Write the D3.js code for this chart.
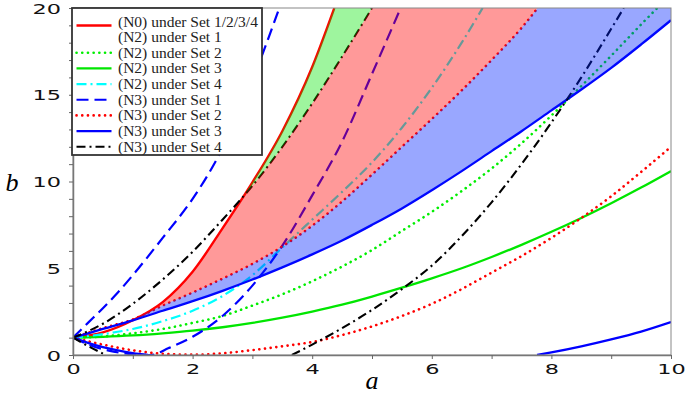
<!DOCTYPE html>
<html>
<head>
<meta charset="utf-8">
<script src="https://d3js.org/d3.v7.min.js"></script>
<style>
  body { margin: 0; background: #fff; }
  .tick text { font-family: "DejaVu Sans", sans-serif; font-size: 14px; fill: #111; }
  .legend text { font-family: "Liberation Serif", "Times New Roman", serif; font-size: 15.5px; fill: #222; }
</style>
</head>
<body>
<svg id="chart" width="685" height="395"></svg>
<script>
// curves, [a, b]
var n0 = [[0,1],[0.5,1.3],[1,2.0],[1.5,3.05],[2,4.8],[2.5,7.3],[3,9.95],[3.5,12.9],[4,16.6],[4.37,20]];
var n2set2 = [[0,1],[0.5,1.07],[1,1.25],[1.5,1.5],[2,1.85],[2.5,2.25],[3,2.85],[3.5,3.5],[4,4.25],[4.5,5.1],[5,6.05],[5.5,7.15],[6,8.25],[6.5,9.45],[7,10.75],[7.5,12.2],[8,13.8],[8.5,15.5],[9,17.25],[9.5,19.05],[9.77,20]];
var n2set3 = [[0,1],[0.5,1.05],[1,1.13],[1.5,1.25],[2,1.4],[2.5,1.6],[3,1.85],[3.5,2.15],[4,2.5],[4.5,2.9],[5,3.37],[5.5,3.88],[6,4.42],[6.5,5.0],[7,5.65],[7.5,6.35],[8,7.1],[8.5,7.9],[9,8.75],[9.5,9.65],[10,10.6]];
var n2set4 = [[0,1],[0.5,1.2],[1,1.5],[1.5,1.95],[2,2.55],[2.5,3.4],[3,4.6],[3.5,6.2],[4,7.8],[4.5,9.4],[5,11.1],[5.5,13.1],[6,15.4],[6.5,18.0],[6.85,20]];
var n3set1Up = [[0,1],[0.25,1.85],[0.5,2.7],[0.75,3.6],[1,4.6],[1.5,6.75],[2,9.0],[2.25,10.35],[2.5,11.9],[2.75,13.7],[3,15.8],[3.25,18.1],[3.45,20]];
var n3set1Low = [[0,1],[0.3,0.55],[0.6,0.25],[0.9,0.08],[1.3,0],[1.6,0.4],[2,1.05],[2.5,2.25],[3,4.0],[3.5,6.3],[4,9.2],[4.5,12.3],[5,16.2],[5.48,20]];
var n3set2Up = [[0,1],[0.5,1.55],[1,2.05],[1.5,2.85],[2,3.6],[2.5,4.4],[3,5.25],[3.5,6.25],[4,7.45],[4.5,8.85],[5,10.4],[5.5,12.0],[6,13.6],[6.5,15.25],[7,17.0],[7.5,18.85],[7.77,20]];
var n3set2Low = [[0,1],[0.5,0.6],[1,0.27],[1.5,0.07],[2,0.02],[2.5,0.1],[3,0.28],[3.5,0.5],[4,0.75],[4.5,1.15],[5,1.65],[5.5,2.25],[6,2.95],[6.5,3.8],[7,4.75],[7.5,5.7],[8,6.75],[8.5,7.9],[9,9.15],[9.5,10.55],[10,12.0]];
var n3set3Up = [[0,1],[0.5,1.5],[1,2.0],[1.5,2.55],[2,3.1],[2.5,3.7],[3,4.35],[3.5,5.05],[4,5.8],[4.5,6.6],[5,7.5],[5.5,8.45],[6,9.5],[6.5,10.6],[7,11.75],[7.5,12.9],[8,14.1],[8.5,15.3],[9,16.55],[9.5,17.9],[10,19.3]];
var n3set3LowL = [[0,1],[0.25,0.7],[0.5,0.45],[0.75,0.26],[1,0.11],[1.25,0]];
var n3set3LowR = [[7.76,0],[8,0.15],[8.5,0.5],[9,0.9],[9.5,1.35],[10,1.9]];
var n3set4Up = [[0,1],[0.5,1.8],[1,2.95],[1.5,4.35],[2,5.95],[2.5,7.8],[3,9.75],[3.5,12.0],[4,14.5],[4.5,17.2],[5,20]];
var n3set4LowL = [[0,1],[0.25,0.52],[0.5,0.08],[0.55,0]];
var n3set4LowR = [[3.66,0],[4,0.6],[4.5,1.55],[5,2.6],[5.5,3.8],[6,5.15],[6.5,6.85],[7,8.8],[7.5,11.0],[8,13.4],[8.5,16.0],[9,18.8],[9.21,20]];

var fillStart = 1.0;   // shaded regions begin at a = 1
var xTicks = [0, 2, 4, 6, 8, 10];
var yTicks = [0, 5, 10, 15, 20];

var series = [
  {label: "(N0) under Set 1/2/3/4", lines: [n0], color: "#ff0000", dash: null, w: 2.4},
  {label: "(N2) under Set 1", lines: [], color: null},
  {label: "(N2) under Set 2", lines: [n2set2], color: "#00ee00", dash: "0.1,5.6", w: 2.6, cap: "round"},
  {label: "(N2) under Set 3", lines: [n2set3], color: "#00e600", dash: null, w: 2.3},
  {label: "(N2) under Set 4", lines: [n2set4], color: "#00ffff", dash: "10,4,2,4", w: 2.2},
  {label: "(N3) under Set 1", lines: [n3set1Up, n3set1Low], color: "#0000ff", dash: "12,6", w: 2.2},
  {label: "(N3) under Set 2", lines: [n3set2Up, n3set2Low], color: "#ff0000", dash: "0.1,5.6", w: 2.6, cap: "round"},
  {label: "(N3) under Set 3", lines: [n3set3Up, n3set3LowL, n3set3LowR], color: "#0000ff", dash: null, w: 2.3},
  {label: "(N3) under Set 4", lines: [n3set4Up, n3set4LowL, n3set4LowR], color: "#000000", dash: "9,4,2,4", w: 2.1}
];

var margin = {top: 8, right: 14, bottom: 40, left: 73},
    width = 685 - margin.left - margin.right,
    height = 395 - margin.top - margin.bottom;

var x = d3.scaleLinear().domain([0, 10]).range([0, width]);
var y = d3.scaleLinear().domain([0, 20]).range([height, 0]);

var svg = d3.select("#chart");
var defs = svg.append("defs");
var g = svg.append("g").attr("transform", "translate(" + margin.left + "," + margin.top + ")");

var line = d3.line().x(function(d) { return x(d[0]); }).y(function(d) { return y(d[1]); })
    .curve(d3.curveMonotoneX);

defs.append("clipPath").attr("id", "plot").append("rect")
    .attr("width", width).attr("height", height);
defs.append("clipPath").attr("id", "fromStart").append("rect")
    .attr("x", x(fillStart)).attr("width", width - x(fillStart)).attr("height", height);

// region under a curve (plus everything right of where it leaves the top)
function below(id, pts) {
  var cp = defs.append("clipPath").attr("id", id);
  cp.append("path").attr("d", d3.area().curve(d3.curveMonotoneX)
      .x(function(d) { return x(d[0]); })
      .y0(y(-1))
      .y1(function(d) { return y(d[1]); })(pts));
  var last = pts[pts.length - 1][0];
  cp.append("rect").attr("x", x(last) - 0.5).attr("y", -10)
      .attr("width", width - x(last) + 20).attr("height", height + 20);
}
function above(pts) {
  return d3.area().curve(d3.curveMonotoneX)
      .x(function(d) { return x(d[0]); })
      .y0(function(d) { return y(d[1]); })
      .y1(y(21))(pts);
}
below("belowN0", n0);
below("belowN3s4", n3set4Up);
below("belowN3s2", n3set2Up);

var plot = g.append("g").attr("clip-path", "url(#plot)");

// lines
series.forEach(function(s) {
  s.lines.forEach(function(pts) {
    plot.append("path")
        .attr("d", line(pts))
        .attr("fill", "none")
        .attr("stroke", s.color)
        .attr("stroke-width", s.w)
        .attr("stroke-dasharray", s.dash)
        .attr("stroke-linecap", s.cap || "butt");
  });
});

// shaded regions drawn on top, translucent
plot.append("g").attr("clip-path", "url(#belowN0)")
  .append("path").attr("d", above(n3set4Up))
    .attr("fill", "#00e600").attr("fill-opacity", 0.38);

plot.append("g").attr("clip-path", "url(#belowN0)")
  .append("g").attr("clip-path", "url(#belowN3s4)")
  .append("path").attr("d", above(n3set2Up))
    .attr("fill", "#ff0000").attr("fill-opacity", 0.4);

plot.append("g").attr("clip-path", "url(#fromStart)")
  .append("g").attr("clip-path", "url(#belowN3s2)")
  .append("path").attr("d", above(n3set3Up))
    .attr("fill", "#0022ff").attr("fill-opacity", 0.4);

// frame
g.append("rect").attr("width", width).attr("height", height)
    .attr("fill", "none").attr("stroke", "#888").attr("stroke-width", 1);

// axes
var xAxis = g.append("g").attr("transform", "translate(0," + height + ")")
    .call(d3.axisBottom(x).tickValues(d3.range(0, 11)).tickSize(4).tickSizeOuter(0)
      .tickFormat(function(d) { return xTicks.indexOf(d) >= 0 ? d : ""; }));
var yAxis = g.append("g")
    .call(d3.axisLeft(y).tickValues(d3.range(0, 21)).tickSize(4).tickSizeOuter(0)
      .tickFormat(function(d) { return yTicks.indexOf(d) >= 0 ? d : ""; }));
[xAxis, yAxis].forEach(function(a) {
  a.select(".domain").attr("stroke", "#777").attr("stroke-width", 1.5);
  a.selectAll(".tick line").attr("stroke", "#666");
});
xAxis.selectAll(".tick text")
    .attr("y", 0).attr("dy", null)
    .attr("transform", "translate(0,19) scale(1.6,1)");
yAxis.selectAll(".tick text")
    .attr("x", 0).attr("dy", "0.36em")
    .attr("transform", "translate(-12,0) scale(1.6,1)");

// axis titles
svg.append("text").attr("x", 12).attr("y", 191)
    .attr("text-anchor", "middle")
    .style("font-family", "'Liberation Serif', serif").style("font-style", "italic").style("font-size", "26px")
    .text("b");
svg.append("text").attr("x", margin.left + x(5)).attr("y", 389)
    .attr("text-anchor", "middle")
    .style("font-family", "'Liberation Serif', serif").style("font-style", "italic").style("font-size", "26px")
    .text("a");

// legend
var legend = g.append("g").attr("class", "legend").attr("transform", "translate(-1,0)");
legend.append("rect").attr("width", 190).attr("height", 147)
    .attr("fill", "#fff").attr("stroke", "#333").attr("stroke-width", 1.8);
series.forEach(function(s, i) {
  var cy = 13.5 + i * 15.65;
  if (s.color) {
    var ly = cy + (i === 0 ? 4 : 0);
    legend.append("line").attr("x1", 4.5).attr("x2", 39.5).attr("y1", ly).attr("y2", ly)
        .attr("stroke", s.color).attr("stroke-width", s.w)
        .attr("stroke-dasharray", s.dash).attr("stroke-linecap", s.cap || "butt");
  }
  legend.append("text").attr("x", 46).attr("y", cy + 5).text(s.label);
});
</script>
</body>
</html>
